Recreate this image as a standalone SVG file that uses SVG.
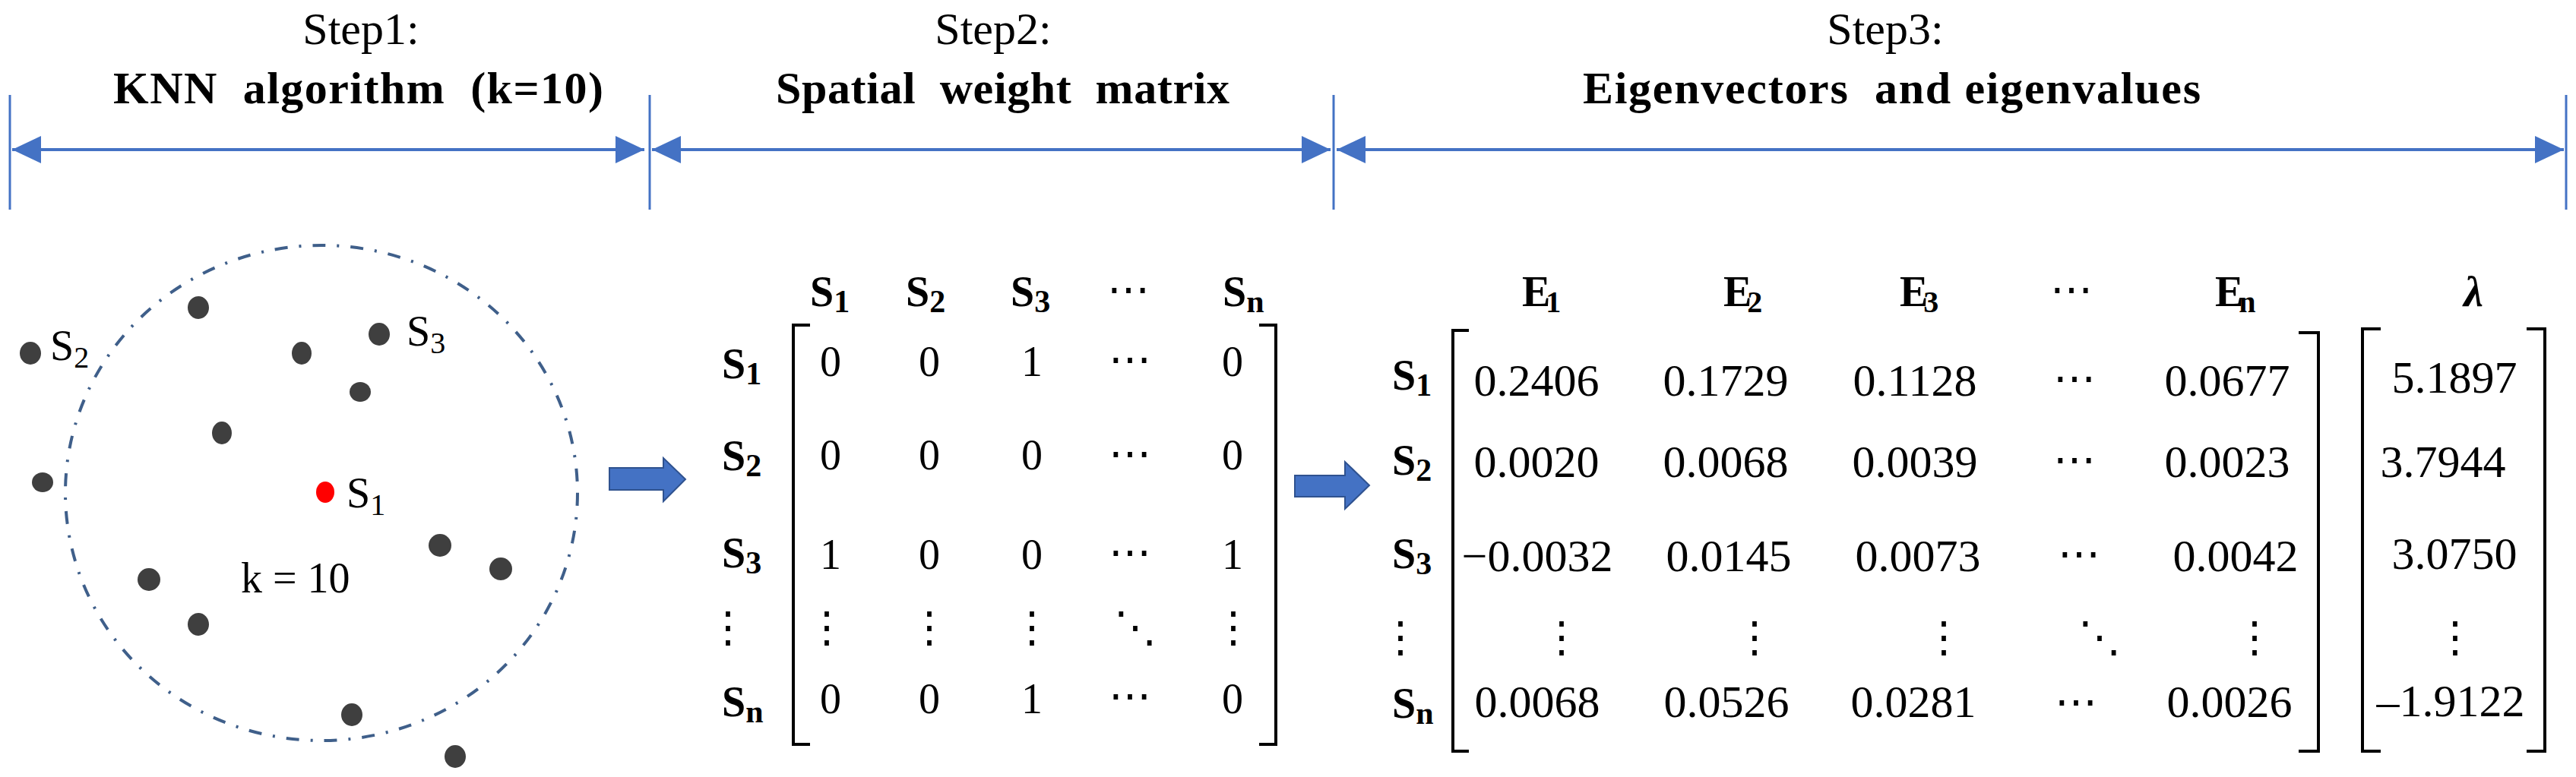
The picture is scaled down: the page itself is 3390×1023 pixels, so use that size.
<svg xmlns="http://www.w3.org/2000/svg" width="3390" height="1023" viewBox="0 0 3390 1023" font-family="Liberation Serif">
<style>
.step{font-size:60px;text-anchor:middle}
.title{font-size:60px;font-weight:bold}
.bs{font-size:56px;font-weight:bold}
.num{font-size:60px;text-anchor:middle}
.w{font-size:56px;text-anchor:middle}
.lab{font-size:56px}
.ell{font-size:56px;text-anchor:middle}
.vline{stroke:#4472C4;stroke-width:3}
.hline{stroke:#4472C4;stroke-width:4;marker-start:url(#ah);marker-end:url(#ah)}
.dot{fill:#3F3F3F}
.br{fill:none;stroke:#000;stroke-width:4}
.blk{fill:#4472C4;stroke:#2F528F;stroke-width:2}
</style>
<defs>
<marker id="ah" markerUnits="userSpaceOnUse" markerWidth="40" markerHeight="38" refX="38" refY="18" orient="auto-start-reverse">
<path d="M0,0 L38,18 L0,36 z" fill="#4472C4"/>
</marker>
</defs>
<rect width="3390" height="1023" fill="#fff"/>

<g id="header" font-family="Liberation Serif" fill="#000">
<text class="step" x="475" y="58">Step1:</text>
<text class="title" x="149" y="136" textLength="645" lengthAdjust="spacing" xml:space="preserve">KNN  algorithm  (k=10)</text>
<text class="step" x="1307" y="58">Step2:</text>
<text class="title" x="1021" y="136" textLength="597" lengthAdjust="spacing" xml:space="preserve">Spatial  weight  matrix</text>
<text class="step" x="2481" y="58">Step3:</text>
<text class="title" x="2083" y="136" textLength="813" lengthAdjust="spacing" xml:space="preserve">Eigenvectors  and eigenvalues</text>
</g>

<g id="connectors">
<line class="vline" x1="13" y1="125" x2="13" y2="276"/>
<line class="vline" x1="855" y1="125" x2="855" y2="276"/>
<line class="vline" x1="1755" y1="125" x2="1755" y2="276"/>
<line class="vline" x1="3377" y1="125" x2="3377" y2="276"/>
<line class="hline" x1="16" y1="197" x2="848" y2="197"/>
<line class="hline" x1="858" y1="197" x2="1751" y2="197"/>
<line class="hline" x1="1759" y1="197" x2="3374" y2="197"/>
<polygon class="blk" points="802,616 873,616 873,603 902,631 873,660 873,645 802,645"/>
<polygon class="blk" points="1704,626 1770,626 1770,608 1802,639 1770,670 1770,654 1704,654"/>
</g>

<g id="knn" font-family="Liberation Serif" fill="#000">
<ellipse cx="423" cy="649" rx="337" ry="326" fill="none" stroke="#3F5F8A" stroke-width="4" stroke-dasharray="17 15 3 15"/>
<ellipse class="dot" cx="40" cy="465" rx="14" ry="15"/>
<ellipse class="dot" cx="261" cy="405" rx="14" ry="15"/>
<ellipse class="dot" cx="397" cy="465" rx="13" ry="15"/>
<ellipse class="dot" cx="499" cy="440" rx="14" ry="15"/>
<ellipse class="dot" cx="474" cy="516" rx="14" ry="13"/>
<ellipse class="dot" cx="292" cy="570" rx="13" ry="15"/>
<ellipse class="dot" cx="56" cy="635" rx="14" ry="13"/>
<ellipse cx="428" cy="648" rx="12" ry="14" fill="#FF0000"/>
<ellipse class="dot" cx="579" cy="718" rx="15" ry="15"/>
<ellipse class="dot" cx="659" cy="749" rx="15" ry="15"/>
<ellipse class="dot" cx="196" cy="763" rx="15" ry="15"/>
<ellipse class="dot" cx="261" cy="822" rx="14" ry="15"/>
<ellipse class="dot" cx="463" cy="941" rx="14" ry="15"/>
<ellipse class="dot" cx="599" cy="996" rx="14" ry="15"/>
<text class="lab" x="66" y="474">S<tspan font-size="40" dy="10">2</tspan></text>
<text class="lab" x="535" y="455">S<tspan font-size="40" dy="10">3</tspan></text>
<text class="lab" x="456" y="668">S<tspan font-size="40" dy="10">1</tspan></text>
<text class="lab" x="317" y="780">k = 10</text>
</g>

<g id="weight-matrix" font-family="Liberation Serif" fill="#000">
<text class="bs" x="1066" y="403">S<tspan font-size="42" dy="8">1</tspan></text>
<text class="bs" x="1192" y="403">S<tspan font-size="42" dy="8">2</tspan></text>
<text class="bs" x="1330" y="403">S<tspan font-size="42" dy="8">3</tspan></text>
<text class="ell" x="1485" y="400">⋯</text>
<text class="bs" x="1609" y="403">S<tspan font-size="42" dy="8">n</tspan></text>
<text class="bs" x="950" y="498">S<tspan font-size="42" dy="8">1</tspan></text>
<text class="bs" x="950" y="619">S<tspan font-size="42" dy="8">2</tspan></text>
<text class="bs" x="950" y="747">S<tspan font-size="42" dy="8">3</tspan></text>
<text class="ell" x="958" y="845">⋮</text>
<text class="bs" x="950" y="943">S<tspan font-size="42" dy="8">n</tspan></text>
<path class="br" d="M1066,428 L1044,428 L1044,980 L1066,980"/>
<path class="br" d="M1657,428 L1679,428 L1679,980 L1657,980"/>
<text class="w" x="1093" y="495">0</text><text class="w" x="1223" y="495">0</text><text class="w" x="1358" y="495">1</text><text class="ell" x="1487" y="492">⋯</text><text class="w" x="1622" y="495">0</text>
<text class="w" x="1093" y="618">0</text><text class="w" x="1223" y="618">0</text><text class="w" x="1358" y="618">0</text><text class="ell" x="1487" y="616">⋯</text><text class="w" x="1622" y="618">0</text>
<text class="w" x="1093" y="749">1</text><text class="w" x="1223" y="749">0</text><text class="w" x="1358" y="749">0</text><text class="ell" x="1487" y="746">⋯</text><text class="w" x="1622" y="749">1</text>
<text class="ell" x="1088" y="845">⋮</text><text class="ell" x="1223" y="845">⋮</text><text class="ell" x="1358" y="845">⋮</text><text class="ell" x="1494" y="845">⋱</text><text class="ell" x="1623" y="845">⋮</text>
<text class="w" x="1093" y="939">0</text><text class="w" x="1223" y="939">0</text><text class="w" x="1358" y="939">1</text><text class="ell" x="1487" y="935">⋯</text><text class="w" x="1622" y="939">0</text>
</g>

<g id="eigen-matrix" font-family="Liberation Serif" fill="#000">
<text class="bs" x="2003" y="403">E<tspan font-size="40" dy="8" dx="-6">1</tspan></text>
<text class="bs" x="2268" y="403">E<tspan font-size="40" dy="8" dx="-6">2</tspan></text>
<text class="bs" x="2500" y="403">E<tspan font-size="40" dy="8" dx="-6">3</tspan></text>
<text class="ell" x="2726" y="400">⋯</text>
<text class="bs" x="2915" y="403">E<tspan font-size="40" dy="8" dx="-6">n</tspan></text>
<text class="bs" x="1832" y="513">S<tspan font-size="42" dy="8">1</tspan></text>
<text class="bs" x="1832" y="625">S<tspan font-size="42" dy="8">2</tspan></text>
<text class="bs" x="1832" y="748">S<tspan font-size="42" dy="8">3</tspan></text>
<text class="ell" x="1843" y="858">⋮</text>
<text class="bs" x="1832" y="945">S<tspan font-size="42" dy="8">n</tspan></text>
<path class="br" d="M1933,435 L1912,435 L1912,989 L1933,989"/>
<path class="br" d="M3025,438 L3051,438 L3051,989 L3025,989"/>
<text class="num" x="2022" y="521">0.2406</text><text class="num" x="2271" y="521">0.1729</text><text class="num" x="2520" y="521">0.1128</text><text class="ell" x="2730" y="517">⋯</text><text class="num" x="2931" y="521">0.0677</text>
<text class="num" x="2022" y="628">0.0020</text><text class="num" x="2271" y="628">0.0068</text><text class="num" x="2520" y="628">0.0039</text><text class="ell" x="2730" y="624">⋯</text><text class="num" x="2931" y="628">0.0023</text>
<text class="num" x="2023" y="752">−0.0032</text><text class="num" x="2275" y="752">0.0145</text><text class="num" x="2524" y="752">0.0073</text><text class="ell" x="2736" y="748">⋯</text><text class="num" x="2942" y="752">0.0042</text>
<text class="ell" x="2055" y="858">⋮</text><text class="ell" x="2309" y="858">⋮</text><text class="ell" x="2558" y="858">⋮</text><text class="ell" x="2763" y="858">⋱</text><text class="ell" x="2967" y="858">⋮</text>
<text class="num" x="2023" y="944">0.0068</text><text class="num" x="2272" y="944">0.0526</text><text class="num" x="2518" y="944">0.0281</text><text class="ell" x="2732" y="943">⋯</text><text class="num" x="2934" y="944">0.0026</text>
</g>

<g id="eigenvalues" font-family="Liberation Serif" fill="#000">
<text x="3255" y="403" style="font-size:58px;font-weight:bold;font-style:italic;text-anchor:middle">λ</text>
<path class="br" d="M3133,433 L3109,433 L3109,989 L3133,989"/>
<path class="br" d="M3325,433 L3349,433 L3349,989 L3325,989"/>
<text class="num" x="3230" y="517">5.1897</text>
<text class="num" x="3215" y="628">3.7944</text>
<text class="num" x="3230" y="749">3.0750</text>
<text class="ell" x="3231" y="858">⋮</text>
<text class="num" x="3225" y="943">–1.9122</text>
</g>
</svg>
